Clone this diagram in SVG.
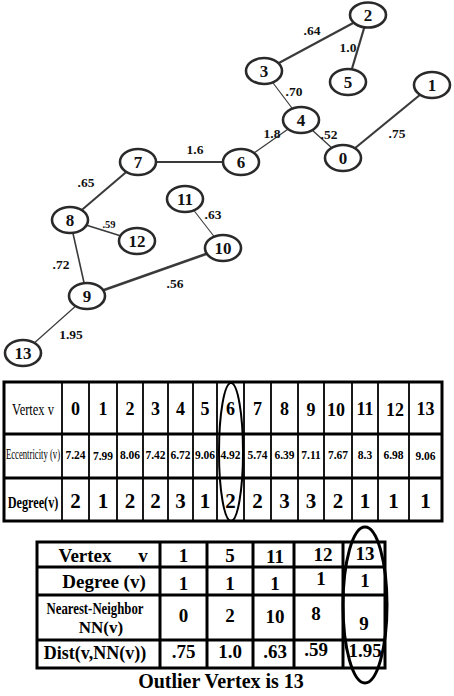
<svg xmlns="http://www.w3.org/2000/svg" width="454" height="696" viewBox="0 0 454 696" font-family="'Liberation Serif', 'Times New Roman', 'DejaVu Serif', serif">
<style>
text{font-family:"Liberation Serif","Times New Roman","DejaVu Serif",serif}
.e{stroke:#3a3a3a;fill:none}
.n ellipse{fill:#fff;stroke:#2a2a2a;stroke-width:2.6}
.n text{font-weight:bold;font-size:17px;text-anchor:middle;fill:#111}
.w{font-weight:bold;font-size:13.5px;text-anchor:middle;fill:#111}
.t{fill:#000;text-anchor:middle}
.b{font-weight:bold}
.g1{stroke:#000;fill:none}
</style>
<rect width="454" height="696" fill="#fff"/>
<g id="connectors">
<line class="e" x1="368" y1="15" x2="264" y2="71" stroke-width="2.2"/>
<line class="e" x1="368" y1="15" x2="348" y2="82" stroke-width="2.2"/>
<line class="e" x1="264" y1="71" x2="301" y2="120" stroke-width="1.2"/>
<line class="e" x1="301" y1="120" x2="241" y2="162" stroke-width="1.2"/>
<line class="e" x1="301" y1="120" x2="343" y2="158" stroke-width="1.3"/>
<line class="e" x1="343" y1="158" x2="432" y2="85" stroke-width="2.2"/>
<line class="e" x1="138" y1="162" x2="241" y2="162" stroke-width="2"/>
<line class="e" x1="138" y1="162" x2="70" y2="220" stroke-width="2"/>
<line class="e" x1="70" y1="220" x2="137" y2="241" stroke-width="1.6"/>
<line class="e" x1="70" y1="220" x2="87" y2="296" stroke-width="1.6"/>
<line class="e" x1="185" y1="199" x2="223" y2="248" stroke-width="1.1"/>
<line class="e" x1="87" y1="296" x2="223" y2="248" stroke-width="2.6"/>
<line class="e" x1="87" y1="296" x2="23" y2="353" stroke-width="1.2"/>
</g>
<g id="edge-labels">
<text class="w" x="312" y="35">.64</text>
<text class="w" x="348" y="52">1.0</text>
<text class="w" x="294" y="96">.70</text>
<text class="w" x="272" y="138">1.8</text>
<text class="w" x="329" y="139">.52</text>
<text class="w" x="397" y="138">.75</text>
<text class="w" x="195" y="154">1.6</text>
<text class="w" x="86" y="187">.65</text>
<text class="w" x="109" y="228" style="font-size:10.5px">.59</text>
<text class="w" x="213" y="219">.63</text>
<text class="w" x="61" y="269">.72</text>
<text class="w" x="175" y="288">.56</text>
<text class="w" x="71" y="339">1.95</text>
</g>
<g id="node-0" class="n"><ellipse cx="343" cy="158" rx="18" ry="13"/><text x="343" y="164">0</text></g>
<g id="node-1" class="n"><ellipse cx="432" cy="85" rx="18" ry="13"/><text x="432" y="91">1</text></g>
<g id="node-2" class="n"><ellipse cx="368" cy="15" rx="18" ry="12.5"/><text x="368" y="21">2</text></g>
<g id="node-3" class="n"><ellipse cx="264" cy="71" rx="18" ry="13"/><text x="264" y="77">3</text></g>
<g id="node-4" class="n"><ellipse cx="301" cy="120" rx="18" ry="13"/><text x="301" y="126">4</text></g>
<g id="node-5" class="n"><ellipse cx="348" cy="82" rx="18" ry="13"/><text x="348" y="88">5</text></g>
<g id="node-6" class="n"><ellipse cx="241" cy="162" rx="18" ry="13"/><text x="241" y="168">6</text></g>
<g id="node-7" class="n"><ellipse cx="138" cy="162" rx="18" ry="13"/><text x="138" y="168">7</text></g>
<g id="node-8" class="n"><ellipse cx="70" cy="220" rx="18" ry="13"/><text x="70" y="226">8</text></g>
<g id="node-9" class="n"><ellipse cx="87" cy="296" rx="18" ry="13"/><text x="87" y="302">9</text></g>
<g id="node-10" class="n"><ellipse cx="223" cy="248" rx="18" ry="13"/><text x="223" y="254">10</text></g>
<g id="node-11" class="n"><ellipse cx="185" cy="199" rx="18" ry="13"/><text x="185" y="205">11</text></g>
<g id="node-12" class="n"><ellipse cx="137" cy="241" rx="18" ry="13"/><text x="137" y="247">12</text></g>
<g id="node-13" class="n"><ellipse cx="23" cy="353" rx="18" ry="13"/><text x="23" y="359">13</text></g>

<g id="table-1">
<rect x="4" y="382" width="438" height="139" class="g1" stroke-width="3"/>
<line class="g1" x1="4" y1="434" x2="442" y2="434" stroke-width="3"/>
<line class="g1" x1="4" y1="478" x2="442" y2="478" stroke-width="3"/>
<g class="g1" stroke-width="1.8">
<line x1="62" y1="382" x2="62" y2="521"/><line x1="89" y1="382" x2="89" y2="521"/>
<line x1="117" y1="382" x2="117" y2="521"/><line x1="143" y1="382" x2="143" y2="521"/>
<line x1="168" y1="382" x2="168" y2="521"/><line x1="193" y1="382" x2="193" y2="521"/>
<line x1="217" y1="382" x2="217" y2="521"/><line x1="244" y1="382" x2="244" y2="521"/>
<line x1="271" y1="382" x2="271" y2="521"/><line x1="298" y1="382" x2="298" y2="521"/>
<line x1="324" y1="382" x2="324" y2="521"/><line x1="352" y1="382" x2="352" y2="521"/>
<line x1="378" y1="382" x2="378" y2="521"/><line x1="409" y1="382" x2="409" y2="521"/>
</g>
<text class="t" transform="translate(33,415) scale(0.78,1)" style="font-size:16px">Vertex  v</text>
<text class="t" transform="translate(33,459) scale(0.62,1)" style="font-size:14px">Eccentricity (v)</text>
<text class="t b" transform="translate(33,508) scale(0.72,1)" style="font-size:17px">Degree(v)</text>
<g class="t b" style="font-size:18px">
<text x="75.5" y="415">0</text><text x="103" y="415">1</text><text x="130" y="415">2</text>
<text x="155.5" y="415">3</text><text x="180.5" y="415">4</text><text x="205" y="415">5</text>
<text x="230.5" y="415">6</text><text x="257.5" y="415">7</text><text x="284.5" y="415">8</text>
<text x="311" y="416">9</text><text x="336" y="416">10</text><text x="365" y="415">11</text>
<text x="395" y="416">12</text><text x="425.5" y="415">13</text>
</g>
<g class="t b" style="font-size:11.5px">
<text x="75.5" y="459">7.24</text><text x="103" y="460">7.99</text><text x="130" y="459">8.06</text>
<text x="155.5" y="459">7.42</text><text x="180.5" y="459">6.72</text><text x="205" y="459">9.06</text>
<text x="230.5" y="459">4.92</text><text x="257.5" y="459">5.74</text><text x="284.5" y="459">6.39</text>
<text x="311" y="459">7.11</text><text x="338" y="459">7.67</text><text x="365" y="459">8.3</text>
<text x="393.5" y="459">6.98</text><text x="425.5" y="460">9.06</text>
</g>
<g class="t b" style="font-size:21px">
<text x="75.5" y="508">2</text><text x="103" y="508">1</text><text x="130" y="508">2</text>
<text x="155.5" y="508">2</text><text x="180.5" y="508">3</text><text x="205" y="508">1</text>
<text x="230.5" y="508">2</text><text x="257.5" y="508">2</text><text x="284.5" y="508">3</text>
<text x="311" y="508">3</text><text x="338" y="508">2</text><text x="365" y="508">1</text>
<text x="393.5" y="508">1</text><text x="425.5" y="508">1</text>
</g>
<ellipse cx="231" cy="452" rx="12" ry="69" class="g1" stroke-width="2"/>
</g>

<g id="table-2">
<rect x="37" y="542" width="348" height="126" class="g1" stroke-width="3"/>
<g class="g1" stroke-width="3">
<line x1="37" y1="567" x2="385" y2="567"/><line x1="37" y1="595" x2="385" y2="595"/>
<line x1="37" y1="640" x2="385" y2="640"/>
<line x1="160" y1="542" x2="160" y2="668"/><line x1="207" y1="542" x2="207" y2="668"/>
<line x1="253" y1="542" x2="253" y2="668"/><line x1="294" y1="542" x2="294" y2="668"/>
<line x1="343" y1="542" x2="343" y2="668"/>
</g>
<text class="t b" style="font-size:19px"><tspan x="85" y="562">Vertex</tspan><tspan x="143" y="562">v</tspan></text>
<text class="t b" x="104" y="588" style="font-size:19px">Degree (v)</text>
<text class="t b" transform="translate(95,614) scale(0.8,1)" style="font-size:16px">Nearest-Neighbor</text>
<text class="t b" x="101" y="633" style="font-size:17px">NN(v)</text>
<text class="t b" x="95" y="659" style="font-size:18px">Dist(v,NN(v))</text>
<g class="t b" style="font-size:19px">
<text x="183.5" y="562">1</text><text x="230" y="562">5</text><text x="275" y="563">11</text>
<text x="323" y="561">12</text><text x="365" y="560">13</text>
<text x="183.5" y="590">1</text><text x="230" y="590">1</text><text x="275" y="590">1</text>
<text x="321" y="585">1</text><text x="365" y="587">1</text>
<text x="183.5" y="622">0</text><text x="230" y="622">2</text><text x="275" y="623">10</text>
<text x="316" y="620">8</text><text x="364" y="630">9</text>
<text x="183.5" y="658">.75</text><text x="230" y="658">1.0</text><text x="275" y="658">.63</text>
<text x="316" y="656">.59</text><text x="365" y="657">1.95</text>
</g>
<ellipse cx="365" cy="605" rx="22" ry="78" class="g1" stroke-width="3"/>
</g>
<text class="t b" x="221" y="688" style="font-size:20px">Outlier Vertex is 13</text>
</svg>
